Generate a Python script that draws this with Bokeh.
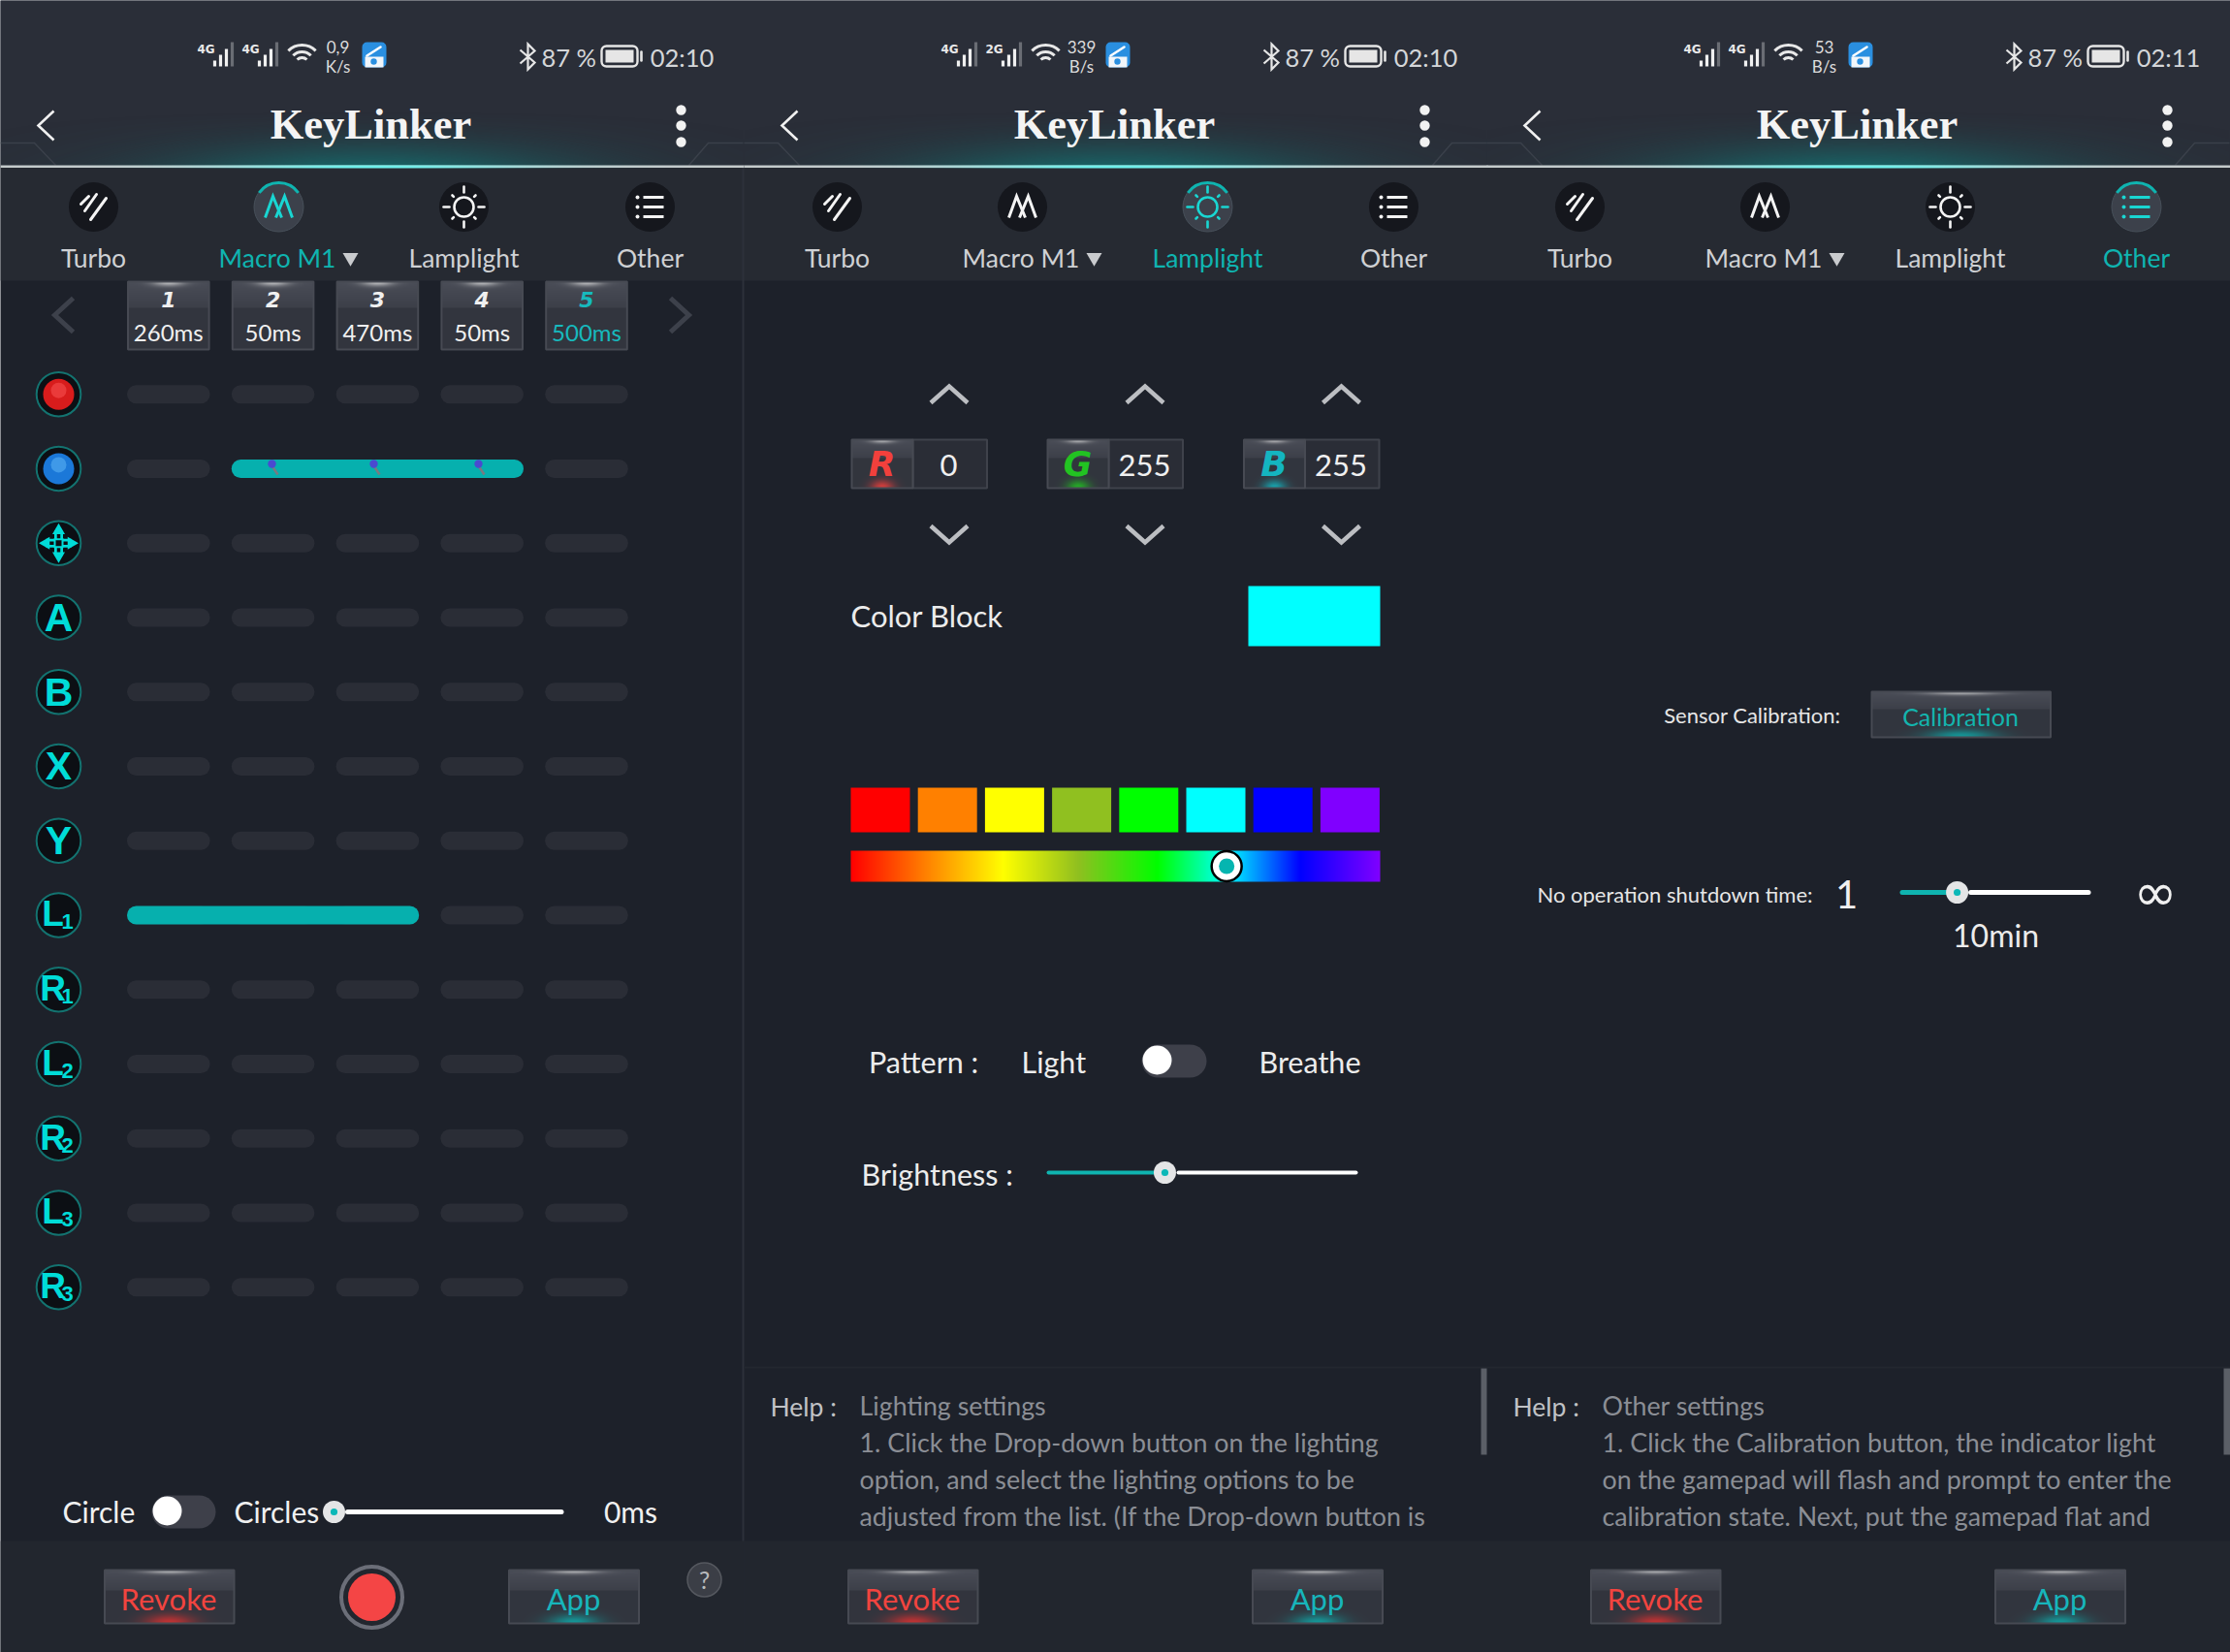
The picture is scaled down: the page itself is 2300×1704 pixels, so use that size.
import numpy as np
from bokeh.core.properties import value
from bokeh.embed import file_html
from bokeh.models import Range1d
from bokeh.plotting import figure
from bokeh.resources import INLINE

# what the three phone screens show
TABS = ["Turbo", "Macro M1", "Lamplight", "Other"]
ACTIVE_TAB = [1, 2, 3]
SIM2_LABELS = ["4G", "2G", "4G"]
NET_SPEED = ["0,9", "339", "53"]
NET_UNIT = ["K/s", "B/s", "B/s"]
CLOCK = ["02:10", "02:10", "02:11"]
BATTERY = "87 %"

STEP_NUMBERS = ["1", "2", "3", "4", "5"]
STEP_TIMES = ["260ms", "50ms", "470ms", "50ms", "500ms"]
ACTIVE_STEP = 4
GAMEPAD_KEYS = ["red", "blue", "dpad", "A", "B", "X", "Y", "L1", "R1", "L2", "R2", "L3", "R3"]
KEY_SPANS = {"blue": (1, 3), "L1": (0, 2)}
CIRCLES_VALUE = 0.0

RGB_NAMES = ["R", "G", "B"]
RGB_VALUES = [0, 255, 255]
RGB_COLORS = ["#f2403c", "#22c322", "#14b5c0"]
SWATCHES = ["#ff0000", "#ff8000", "#ffff00", "#90c020", "#00ff00", "#00ffff", "#0000ff", "#8000ff"]
HUE_STOPS = [0.0, 0.14, 0.288, 0.43, 0.58, 0.71, 0.85, 1.0]
HUE_VALUE = 0.71
BRIGHTNESS = 0.38
SHUTDOWN = 0.30

HELP_LIGHT = [
    "Lighting settings",
    "1. Click the Drop-down button on the lighting",
    "option, and select the lighting options to be",
    "adjusted from the list. (If the Drop-down button is",
]
HELP_OTHER = [
    "Other settings",
    "1. Click the Calibration button, the indicator light",
    "on the gamepad will flash and prompt to enter the",
    "calibration state. Next, put the gamepad flat and",
]

PANELS = [0, 767, 1533]
TEAL = "#0fb4b0"
CYAN = "#00dcd8"
FONT = "Lato"

p = figure(
    width=2300,
    height=1704,
    x_range=Range1d(0, 2300),
    y_range=Range1d(1704, 0),
    x_axis_type=None,
    y_axis_type=None,
    output_backend="svg",
    toolbar_location=None,
    min_border=0,
    outline_line_color=None,
    background_fill_color="#1d212a",
    border_fill_color="#1d212a",
)


def label(x, y, s, size=27, color="#d4d6d9", align="center", font=FONT, style="normal"):
    p.text(
        x=[x], y=[y - 1], text=[s], text_font=value(font), text_font_size=f"{size}px", text_font_style=style,
        text_color=color, text_align=align, text_baseline="middle",
    )


def box(x0, x1, y0, y1, color, line=None, width=1):
    p.quad(left=[x0], right=[x1], top=[y0], bottom=[y1], fill_color=color, line_color=line, line_width=width)


def stroke(xs, ys, color="#ffffff", width=3, cap="round", alpha=1.0):
    p.line(xs, ys, line_color=color, line_width=width, line_cap=cap, line_join="miter", line_alpha=alpha)


def disc(x, y, r, color, line=None, width=1):
    p.circle(x=[x], y=[y], radius=r, fill_color=color, line_color=line, line_width=width)


def pill(x0, x1, y, h, color):
    p.segment(x0=[x0 + h / 2], y0=[y], x1=[x1 - h / 2], y1=[y], line_color=color, line_width=h, line_cap="round")


def blit(x0, x1, y0, y1, rgb, alpha):
    # rgb h x w x 3 in 0-255, alpha h x w in 0-1, row 0 is the top on screen
    a = np.dstack([rgb, alpha * 255]).astype(np.uint8)
    img = a.view(np.uint32).reshape(a.shape[:2])
    p.image_rgba(image=[img], x=x0, y=y0, dw=x1 - x0, dh=y1 - y0)


def glass(x0, x1, y0, y1, glow=None, split=0.38, top=(74, 77, 87), low=(50, 53, 62), border="#474a53"):
    w, h = int(x1 - x0), int(y1 - y0)
    t = np.linspace(0, 1, h)[:, None]
    u = np.linspace(-1, 1, w)[None, :]
    base = np.where(t < split, 1 - 0.55 * t / split, 0.0)
    rgb = np.zeros((h, w, 3))
    for c in range(3):
        rgb[:, :, c] = low[c] + (top[c] - low[c]) * base
    hi = np.exp(-(u / 0.4) ** 2) * np.exp(-(t / 0.06) ** 2) * 0.75
    for c in range(3):
        rgb[:, :, c] += (225 - rgb[:, :, c]) * hi
    if glow:
        g = np.exp(-(u / 0.38) ** 2) * np.exp(-((1 - t) / 0.16) ** 2) * 0.85
        for c in range(3):
            rgb[:, :, c] += (glow[c] - rgb[:, :, c]) * g
    blit(x0, x1, y0, y1, rgb, np.ones((h, w)))
    p.quad(left=[x0], right=[x1], top=[y0], bottom=[y1], fill_color=None, line_color=border, line_width=2)


def slider(x0, x1, y, value_, width=5):
    knob = x0 + (x1 - x0) * value_
    if value_ > 0:
        stroke([x0 + width / 2, knob], [y, y], TEAL, width)
    stroke([knob + 14, x1 - width / 2], [y, y], "#ffffff", width)
    disc(knob, y, 11.5, "#e4e5e6")
    disc(knob, y, 3.6, "#0cb8b8")


def toggle(x0, x1, y, knob):
    pill(x0, x1, y, 34, "#3e404a")
    disc(knob, y - 1, 15, "#ffffff")


def status_bar(ox, i):
    for sx, name in zip([205, 251], ["4G", SIM2_LABELS[i]]):
        label(ox + sx + 7, 51, name, 12, "#e8e8e8", font="DejaVu Sans", style="bold")
        bars = [6, 12, 18, 25]
        for k, b in enumerate(bars):
            bx = ox + sx + 16 + k * 6
            col = "#f0f0f0" if k < 3 else "#6a6d74"
            stroke([bx, bx], [68, 68 - b], col, 3.2, cap="butt")
    # wifi
    for r in [20, 13, 7]:
        p.arc(x=[ox + 311], y=[66], radius=r, start_angle=np.pi * 0.25, end_angle=np.pi * 0.75,
              line_color="#e8e8e8", line_width=3, direction="anticlock")
    label(ox + 348, 49, NET_SPEED[i], 17, "#dddddd")
    label(ox + 348, 69, NET_UNIT[i], 17, "#dddddd")
    p.quad(left=[ox + 373], right=[ox + 398], top=[43], bottom=[69], fill_color="#2a8fe0", line_color=None, border_radius=5)
    box(ox + 376, ox + 395, 58, 69, "#f2f6fa")
    stroke([ox + 378, ox + 392], [57, 48], "#ffffff", 2.6)
    disc(ox + 385, 63, 3.2, "#2a8fe0")
    # bluetooth
    stroke([ox + 536, ox + 551, ox + 544, ox + 544, ox + 551, ox + 536], [51, 64, 71, 45, 52, 65], "#e6e6e6", 2.2, cap="butt")
    label(ox + 558, 59, BATTERY, 25.5, align="left")
    p.quad(left=[ox + 620], right=[ox + 657], top=[47], bottom=[68], fill_color=None, line_color="#e6e6e6", line_width=2.4, border_radius=5)
    box(ox + 624, ox + 653, 51, 64, "#e6e6e6")
    stroke([ox + 661, ox + 661], [53, 62], "#e6e6e6", 2.6, cap="round")
    label(ox + 703, 59, CLOCK[i], 25.5)


def tab_icon(k, x, y, color):
    if k == 0:
        stroke([x - 5, x - 13], [y - 11, y - 3], color, 3)
        stroke([x + 3, x - 9], [y - 13, y + 4], color, 3)
        stroke([x + 13, x - 3], [y - 9, y + 13], color, 3)
    elif k == 1:
        stroke([x - 14, x - 6, x + 3], [y + 11, y - 11, y + 11], color, 3, cap="butt")
        stroke([x - 3, x + 6, x + 14], [y + 11, y - 11, y + 11], color, 3, cap="butt")
    elif k == 2:
        p.circle(x=[x], y=[y], radius=10, fill_color=None, line_color=color, line_width=2.6)
        for a in np.arange(8) * np.pi / 4:
            r1, r2 = (15, 21) if round(a / (np.pi / 2), 3) % 1 == 0 else (15, 17)
            stroke([x + r1 * np.cos(a), x + r2 * np.cos(a)], [y + r1 * np.sin(a), y + r2 * np.sin(a)], color, 2.6)
    else:
        for dy in [-10, 0, 10]:
            disc(x - 13, y + dy, 2, color)
            stroke([x - 7, x + 14], [y + dy, y + dy], color, 3, cap="butt")


def panel_chrome(ox, i):
    status_bar(ox, i)
    # header glow
    w, h = 766, 62
    u = np.linspace(-1, 1, w)[None, :]
    t = np.linspace(0, 1, h)[:, None]
    rgb = np.zeros((h, w, 3))
    rgb[:, :, 0], rgb[:, :, 1], rgb[:, :, 2] = 20, 115, 115
    blit(ox, ox + 766, 110, 172, rgb, np.exp(-(u / 0.55) ** 2) * t ** 2 * 0.78)
    stroke([ox, ox + 35, ox + 57], [147, 147, 170], "#3a404a", 1.5, cap="butt")
    stroke([ox + 710, ox + 730, ox + 766], [170, 147, 147], "#3a404a", 1.5, cap="butt")
    stroke([ox + 55, ox + 39, ox + 55], [114, 129, 144], "#f0f0f0", 2.6, cap="butt")
    label(ox + 382, 128, "KeyLinker", 44.5, "#f4f4f4", font="Liberation Serif", style="bold")
    for y in [113, 129, 146]:
        disc(ox + 702, y, 5.2, "#f2f2f2")
    box(ox, ox + 767, 170, 172.5, "#c4cacb")
    glint = np.exp(-(np.linspace(-1, 1, 766)[None, :] / 0.4) ** 2)
    blit(ox, ox + 766, 170, 173, np.dstack([np.full((1, 766), 110), np.full((1, 766), 240), np.full((1, 766), 235)]), glint)

    # tabs
    for k, name in enumerate(TABS):
        x = ox + [96, 287, 478, 670][k]
        active = k == ACTIVE_TAB[i]
        if active:
            disc(x, 213, 25.5, "#3c414b", line="#47505a", width=1)
            p.arc(x=[x], y=[213], radius=25, start_angle=np.pi * 0.2, end_angle=np.pi * 0.8,
                  line_color=TEAL, line_width=3, direction="anticlock")
        else:
            disc(x, 213, 25.5, "#15171d")
        tab_icon(k, x, 213, "#19d6d2" if active else "#f4f4f4")
        color = TEAL if active else "#cfd1d4"
        label(x if k != 1 else ox + 285.5, 266, name, 26.5, color)
        if k == 1:
            p.scatter(x=[ox + 361], y=[265], marker="inverted_triangle", size=16, fill_color="#c9cbce", line_color=None)

    # bottom bar
    box(ox, ox + 767, 1589, 1704, "#22262e")
    glass(ox + 107.5, ox + 241, 1619, 1674, glow=(220, 50, 50))
    label(ox + 173.5, 1649, "Revoke", 31, "#f2443f")
    glass(ox + 524.5, ox + 658.5, 1619, 1674, glow=(15, 170, 170))
    label(ox + 591, 1649, "App", 31, "#17b5bb")


def key_icon(key, y):
    x = 60
    disc(x, y, 22.8, "#0c0f14", line="#137370", width=2)
    if key == "red":
        disc(x, y, 16, "#d81c1c")
        disc(x, y - 4, 8, "#ea3a3a")
    elif key == "blue":
        disc(x, y, 16, "#1b78d8")
        disc(x, y - 4, 8, "#3f99e8")
    elif key == "dpad":
        stroke([x - 13, x + 13], [y, y], CYAN, 9, cap="butt")
        stroke([x, x], [y - 13, y + 13], CYAN, 9, cap="butt")
        stroke([x - 13, x + 13], [y, y], "#0c0f14", 3.5, cap="butt")
        stroke([x, x], [y - 13, y + 13], "#0c0f14", 3.5, cap="butt")
        for angle, dx, dy in [(0, 0, -13), (np.pi, 0, 13), (np.pi / 2, -13, 0), (-np.pi / 2, 13, 0)]:
            p.scatter(x=[x + dx], y=[y + dy], marker="triangle", size=13, angle=angle, fill_color=CYAN, line_color=None)
        box(x - 5, x + 5, y - 5, y + 5, CYAN)
        box(x - 3, x + 3, y - 3, y + 3, "#0c0f14")
    elif len(key) == 1:
        label(x, y + 1, key, 41, CYAN, font="Liberation Sans", style="bold")
    else:
        label(x - 6, y, key[0], 37, CYAN, font="Liberation Sans", style="bold")
        label(x + 9, y + 8, key[1], 22, CYAN, font="Liberation Sans", style="bold")


def macro_screen():
    cols = [173.3 + 107.8 * i for i in range(len(STEP_TIMES))]
    half = 42.8
    for x0, x1 in [(56, 75), (710, 691)]:
        stroke([x1, x0, x1], [307, 324.5, 342], "#3d414b", 5, cap="butt")
    for j, (n, t) in enumerate(zip(STEP_NUMBERS, STEP_TIMES)):
        glass(cols[j] - half + 1, cols[j] + half - 1, 290, 360)
        color = "#17b9bd" if j == ACTIVE_STEP else "#f0f0f0"
        label(cols[j], 309, n, 22, color, font="DejaVu Sans", style="bold italic")
        label(cols[j], 343, t, 24, color)
    for r, key in enumerate(GAMEPAD_KEYS):
        y = 406.2 + 76.75 * r
        key_icon(key, y)
        for c in cols:
            pill(c - half, c + half, y, 19, "#2a2d36")
        if key in KEY_SPANS:
            a, b = KEY_SPANS[key]
            pill(cols[a] - half, cols[b] + half, y, 19, "#06b0ae")
    # note markers on the blue row
    for x in [280, 385, 493]:
        stroke([x, x + 6], [480, 489], "#777b82", 2.5, cap="butt")
        disc(x, 478, 4.2, "#4a4ad0")

    label(64, 1559, "Circle", 30, "#f0f0f0", align="left")
    toggle(156, 222, 1559, 172)
    label(241, 1559, "Circles", 30, "#f0f0f0", align="left")
    slider(344, 581, 1559, CIRCLES_VALUE)
    label(650, 1559, "0ms", 30, "#f0f0f0")


def record_buttons():
    disc(383, 1647, 31.5, "#22262e", line="#6b6e78", width=4)
    disc(383, 1647, 24.5, "#f44545")
    disc(726, 1629, 17.5, "#3b3e46", line="#55585f", width=1.5)
    label(726, 1629, "?", 25, "#b8babd")


def help_block(ox, lines):
    label(ox + 27, 1451, "Help :", 26.5, "#c0c2c5", align="left")
    for k, s in enumerate(lines):
        label(ox + 119, 1450 + 38.2 * k, s, 26.8, "#8b8e95", align="left")


def light_screen():
    lefts = [878, 1080, 1282.5]
    for k, left in enumerate(lefts):
        mid = left + 100.5
        stroke([mid - 19, mid, mid + 19], [415, 398, 415], "#bcbec2", 4.5, cap="butt")
        stroke([mid - 19, mid, mid + 19], [542, 559, 542], "#bcbec2", 4.5, cap="butt")
        box(left + 63, left + 139.5, 453, 503, "#2a2d36", line="#3f424b", width=2)
        glass(left, left + 63, 453, 503, glow=tuple(int(RGB_COLORS[k][n:n + 2], 16) for n in (1, 3, 5)))
        label(left + 31, 479, RGB_NAMES[k], 36, RGB_COLORS[k], font="DejaVu Sans", style="bold italic")
        label(left + 100, 480, str(RGB_VALUES[k]), 31, "#f0f0f0")

    label(877, 635, "Color Block", 31, "#ececec", align="left")
    rgb_now = "#%02x%02x%02x" % tuple(RGB_VALUES)
    box(1287, 1423, 604, 666, rgb_now)

    for k, c in enumerate(SWATCHES):
        box(877 + 69.2 * k, 938 + 69.2 * k, 812, 858, c)

    w = 546
    stops = np.array([[int(c[n:n + 2], 16) for n in (1, 3, 5)] for c in SWATCHES], dtype=float)
    t = np.linspace(0, 1, w)
    row = np.column_stack([np.interp(t, HUE_STOPS, stops[:, c]) for c in range(3)])
    blit(877, 1423, 877, 909, np.tile(row[None, :, :], (32, 1, 1)), np.ones((32, w)))
    kx = 877 + w * HUE_VALUE
    disc(kx, 893, 15.5, "#ffffff", line="#000000", width=2.5)
    disc(kx, 893, 8, "#05b5b0")

    label(895.5, 1095, "Pattern :", 30.5, "#ececec", align="left")
    label(1053, 1095, "Light", 30.5, "#ececec", align="left")
    toggle(1177, 1244, 1094, 1193)
    label(1298, 1095, "Breathe", 30.5, "#ececec", align="left")

    label(888, 1211, "Brightness :", 30.5, "#ececec", align="left")
    slider(1079, 1400, 1209, BRIGHTNESS, width=4)


def other_screen():
    label(1898, 738, "Sensor Calibration:", 22, "#e6e6e6", align="right")
    glass(1930, 2114.5, 713, 760, glow=(15, 170, 170))
    label(2021.5, 739, "Calibration", 25, "#13b5ae")
    label(1869, 923, "No operation shutdown time:", 22, "#e6e6e6", align="right")
    label(1904, 923, "1", 40, "#f0f0f0")
    slider(1959, 2156, 920, SHUTDOWN)
    label(2222.5, 921, "∞", 54, "#f0f0f0", font="DejaVu Sans")
    label(2058, 965, "10min", 32, "#ececec")


# backgrounds
box(0, 2300, 0, 172, "#2a2e38")
box(0, 2300, 172, 289, "#262a32")
stroke([766, 766], [172, 1704], "#2d313a", 2, cap="butt")

macro_screen()
light_screen()
other_screen()

# help text runs under the bottom bar, so it goes before the chrome
box(767, 2300, 1409, 1411, "#23272f")
help_block(PANELS[1], HELP_LIGHT)
help_block(PANELS[2], HELP_OTHER)
box(1527, 1533, 1411, 1500, "#5b5f67")
box(2293, 2300, 1411, 1500, "#5b5f67")

for i, ox in enumerate(PANELS):
    panel_chrome(ox, i)
record_buttons()

open("out.html", "w").write(file_html(p, INLINE))
